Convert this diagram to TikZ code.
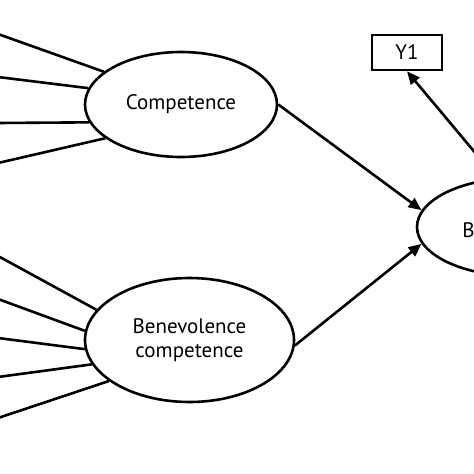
\documentclass[tikz,border=0pt]{standalone}
\usepackage{fontspec}
\setmainfont{PT Sans}
\usetikzlibrary{shapes.geometric, arrows.meta}

\begin{document}
\begin{tikzpicture}[x=1pt, y=-1pt, line width=2.6pt,
    latent/.style={draw, ellipse, inner sep=0pt, align=center, font=\fontsize{21}{24}\selectfont},
    obs/.style={draw, rectangle, inner sep=0pt, font=\fontsize{21}{24}\selectfont},
    path/.style={-{Triangle[length=13pt,width=11pt]}}]
      \useasboundingbox (0,0) rectangle (474,474);
      \clip (0,0) rectangle (474,474);

      \node[latent, minimum width=192, minimum height=105] (CMP) at (181,104.5) {Competence};
      \node[latent, minimum width=209, minimum height=124] (BNV) at (189.5,340) {Benevolence\\competence};
      \node[latent, minimum width=200, minimum height=98] (BEH) at (517,227) {};
      \node[font=\fontsize{21}{24}\selectfont, anchor=west, inner sep=0pt] (BEHtxt) at (461,230) {B};
      \node[obs, minimum width=70, minimum height=35] (Y1) at (407,52.5) {Y1};

      % indicators of competence
      \coordinate (C1) at (-2,34);
      \coordinate (C2) at (-2,77);
      \coordinate (C3) at (-2,123);
      \coordinate (C4) at (-2,163);
      \draw (C1) -- (CMP.157);
      \draw (C2) -- (CMP.170);
      \draw (C3) -- (CMP.191);
      \draw (C4) -- (CMP.204);

      % indicators of benevolence
      \coordinate (B1) at (-2,256);
      \coordinate (B2) at (-2,299);
      \coordinate (B3) at (-2,338);
      \coordinate (B4) at (-2,377);
      \coordinate (B5) at (-2,418);
      \draw (B1) -- (BNV.162.6);
      \draw (B2) -- (BNV.175);
      \draw (B3) -- (BNV.185);
      \draw (B4) -- (BNV.194.5);
      \draw (B5) -- (BNV.207.8);

      \draw[path] (CMP.east) -- (BEH.170);
      \draw[path] (BNV.-3) -- (BEH.190);
      \draw[path] (BEH.113) -- (Y1.south);
    \end{tikzpicture}
\end{document}
